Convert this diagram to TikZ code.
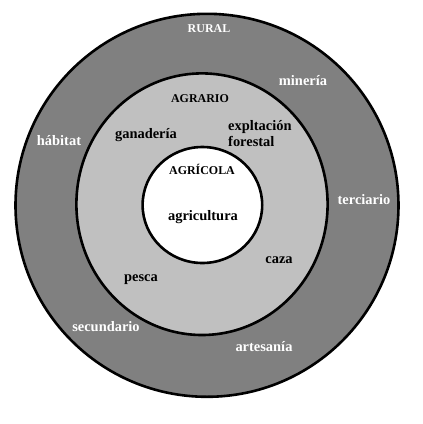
\documentclass[tikz,border=0pt]{standalone}
\usepackage{fontspec}
\setmainfont{Liberation Serif}
\definecolor{outergray}{RGB}{128,128,128}
\definecolor{midgray}{RGB}{192,192,192}
\begin{document}
\begin{tikzpicture}[x=1bp,y=-1bp,
  ring/.style={draw=black,line width=2.6bp},
  caps/.style={inner sep=0pt,font=\bfseries\fontsize{12}{14}\selectfont},
  word/.style={inner sep=0pt,font=\bfseries\fontsize{14.5}{16}\selectfont},
  light/.style={text=white},
  dark/.style={text=black}]
\useasboundingbox[fill=white] (0,0) rectangle (423,424);
\draw[ring,fill=outergray] (207,205.3) circle [radius=191.5];
\draw[ring,fill=midgray] (202,204.2) ellipse [x radius=125.6, y radius=130.8];
\draw[ring,fill=white] (202.4,205) ellipse [x radius=59.8, y radius=58];
% outer ring
\node[caps,light] (rural) at (209,28.5) {RURAL};
\node[word,light] (mineria) at (303,81) {minería};
\node[word,light] (habitat) at (59,141) {hábitat};
\node[word,light] (terciario) at (364,200) {terciario};
\node[word,light] (secundario) at (106,327) {secundario};
\node[word,light] (artesania) at (264,347) {artesanía};
% middle ring
\node[caps,dark] (agrario) at (200,98.5) {AGRARIO};
\node[word,dark] (ganaderia) at (146,135) {ganadería};
\node[word,dark,align=left,anchor=west] (forestal) at (228,134) {expltación\\forestal};
\node[word,dark] (caza) at (279,260) {caza};
\node[word,dark] (pesca) at (141,280) {pesca};
% inner circle
\node[caps,dark] (agricola) at (202,169.5) {AGRÍCOLA};
\node[word,dark] (agricultura) at (203,217) {agricultura};
\end{tikzpicture}
\end{document}
